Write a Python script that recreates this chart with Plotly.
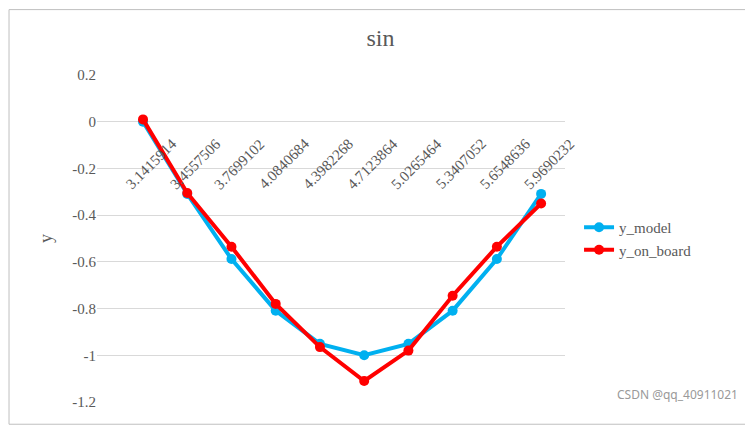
import plotly.graph_objects as go

# x values (radians) used as category labels
x_labels = ["3.1415914", "3.4557506", "3.7699102", "4.0840684", "4.3982268",
            "4.7123864", "5.0265464", "5.3407052", "5.6548636", "5.9690232"]
y_model = [0.0, -0.309, -0.588, -0.809, -0.951, -1.0, -0.951, -0.809, -0.588, -0.309]
y_on_board = [0.01, -0.305, -0.535, -0.78, -0.965, -1.11, -0.98, -0.745, -0.535, -0.35]

idx = list(range(len(x_labels)))
serif = "Liberation Serif"

fig = go.Figure()
fig.add_trace(go.Scatter(x=idx, y=y_model, name="y_model", mode="lines+markers",
                         line=dict(color="#00B0F0", width=4),
                         marker=dict(color="#00B0F0", size=10)))
fig.add_trace(go.Scatter(x=idx, y=y_on_board, name="y_on_board", mode="lines+markers",
                         line=dict(color="#FF0000", width=4),
                         marker=dict(color="#FF0000", size=10)))

# category labels sit on the y=0 line, rotated like Excel does it
for i, lab in zip(idx, x_labels):
    fig.add_annotation(x=i, y=0, text=lab, showarrow=False, textangle=-45,
                       xanchor="center", yanchor="middle", xshift=8, yshift=-42,
                       font=dict(family=serif, size=15, color="#595959"))

fig.add_annotation(xref="paper", yref="paper", x=1.374, y=-0.01, text="CSDN @qq_40911021",
                   showarrow=False, xanchor="right", yanchor="bottom",
                   font=dict(family="Noto Sans", size=12, color="#999999"))

# outer chart border
fig.add_shape(type="rect", xref="paper", yref="paper", x0=-0.188, x1=1.398, y0=-0.068, y1=1.2,
              line=dict(color="#BFBFBF", width=1))

fig.update_layout(
    width=745, height=418,
    margin=dict(l=89, r=188, t=67, b=24),
    paper_bgcolor="white", plot_bgcolor="white",
    title=dict(text="sin", x=0.5, xanchor="center", y=0.93, yanchor="middle",
               font=dict(family=serif, size=24, color="#595959")),
    font=dict(family=serif, size=15, color="#595959"),
    xaxis=dict(range=[-1.04, 9.54], showticklabels=False, showgrid=False, zeroline=False),
    yaxis=dict(range=[-1.2, 0.2], tickvals=[0.2, 0, -0.2, -0.4, -0.6, -0.8, -1, -1.2],
               ticktext=["0.2", "0", "-0.2", "-0.4", "-0.6", "-0.8", "-1", "-1.2"],
               showgrid=True, gridcolor="#D9D9D9", zeroline=False,
               title=dict(text="y", standoff=14)),
    legend=dict(x=1.03, y=0.5, xanchor="left", yanchor="middle",
                font=dict(family=serif, size=15, color="#595959")),
    showlegend=True,
)

fig.write_html("out.html")
